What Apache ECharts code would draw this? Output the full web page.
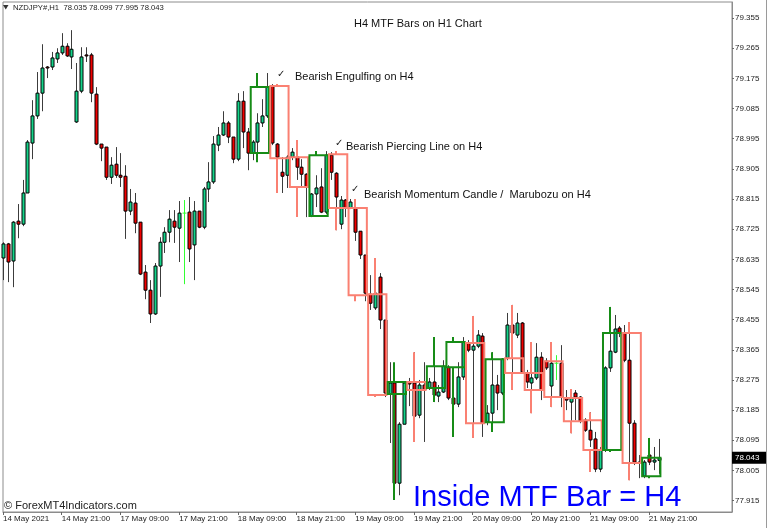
<!DOCTYPE html>
<html><head><meta charset="utf-8">
<script src="https://cdn.jsdelivr.net/npm/echarts@6/dist/echarts.min.js"></script>
<style>html,body{margin:0;padding:0;background:#fff}#c{width:768px;height:528px}</style>
</head><body><div id="c"></div>
<script>
// ---- data ----
const headerText = 'NZDJPY#,H1  78.035 78.099 77.995 78.043';
const titleText = 'H4 MTF Bars on H1 Chart';
const notes = ['Bearish Engulfing on H4', 'Bearish Piercing Line on H4', 'Bearish Momentum Candle /  Marubozu on H4'];
const bigNote = 'Inside MTF Bar = H4';
const copyright = '\u00A9 ForexMT4Indicators.com';

// H1 candles, bar index 0 = 14 May 2021 09:00
const h1Open = [78.639,78.681,78.630,78.749,78.740,78.833,78.982,79.063,79.131,79.209,79.209,79.233,79.251,79.271,79.239,
79.045,79.137,79.245,79.245,79.128,78.979,78.970,78.880,78.919,78.886,78.883,78.779,78.803,78.746,78.597,78.543,78.472,78.615,78.686,78.716,78.749,78.728,78.773,78.776,
78.678,78.779,78.731,78.845,78.866,78.976,79.006,79.042,79.000,78.934,79.107,79.015,78.952,78.985,79.042,79.063,79.152,78.979,78.895,78.886,78.940,78.940,78.910,78.889,
78.764,78.830,78.851,78.776,78.946,78.892,78.740,78.812,78.788,78.788,78.719,78.648,78.531,78.490,78.582,78.454,78.233,78.266,77.967,78.143,78.269,78.266,78.170,78.260,
78.251,78.269,78.227,78.239,78.313,78.221,78.203,78.284,78.385,78.364,78.376,78.406,78.149,78.176,78.260,78.236,78.340,78.439,78.409,78.445,78.296,78.266,78.281,78.343,
78.331,78.257,78.325,78.325,78.221,78.209,78.236,78.224,78.155,78.125,78.099,78.009,78.066,78.311,78.358,78.430,78.415,78.334,78.146,78.030,77.988,78.051,78.030,78.035];
const h1High = [78.686,78.684,78.749,78.800,78.872,78.991,79.110,79.194,79.277,79.212,79.254,79.265,79.310,79.280,79.319,
79.221,79.268,79.268,79.251,79.149,78.979,78.970,78.940,78.970,78.952,78.916,78.845,78.833,78.746,78.618,78.573,78.624,78.701,78.731,78.782,78.782,78.809,78.812,78.821,
78.809,78.779,78.851,78.925,79.003,79.030,79.077,79.048,79.000,79.131,79.137,79.027,78.991,79.071,79.113,79.191,79.158,78.982,78.940,78.946,78.967,78.991,78.934,78.892,
78.833,78.886,78.907,78.958,78.955,78.895,78.824,78.815,78.815,78.815,78.719,78.648,78.588,78.639,78.594,78.454,78.328,78.269,78.149,78.269,78.281,78.358,78.275,78.328,
78.281,78.403,78.260,78.334,78.319,78.245,78.328,78.403,78.394,78.466,78.424,78.415,78.200,78.358,78.290,78.340,78.475,78.499,78.475,78.448,78.305,78.388,78.385,78.358,
78.340,78.388,78.349,78.379,78.245,78.248,78.245,78.227,78.161,78.179,78.120,78.075,78.316,78.493,78.469,78.436,78.439,78.448,78.155,78.051,78.036,78.102,78.075,78.099];
const h1Low = [78.573,78.567,78.552,78.698,78.734,78.833,78.934,79.054,79.077,79.176,79.200,79.221,79.245,79.239,79.203,
79.042,79.131,79.224,79.104,78.976,78.928,78.872,78.860,78.878,78.851,78.696,78.767,78.713,78.588,78.516,78.445,78.469,78.523,78.654,78.686,78.684,78.627,78.561,78.627,
78.573,78.728,78.725,78.806,78.860,78.958,79.003,78.982,78.922,78.928,78.967,78.901,78.931,78.940,79.030,79.057,78.976,78.901,78.833,78.848,78.931,78.872,78.848,78.761,
78.761,78.791,78.773,78.770,78.872,78.722,78.725,78.761,78.785,78.690,78.636,78.510,78.484,78.484,78.427,78.224,78.087,77.917,77.931,78.143,78.197,78.090,78.161,78.090,
78.245,78.209,78.209,78.236,78.215,78.105,78.194,78.275,78.358,78.105,78.370,78.105,78.140,78.120,78.185,78.230,78.334,78.245,78.400,78.293,78.251,78.176,78.275,78.215,
78.305,78.194,78.275,78.194,78.185,78.116,78.155,78.146,78.120,78.075,78.000,78.000,78.060,78.299,78.355,78.403,78.328,77.976,78.021,77.982,77.982,78.021,78.006,77.995];
const h1Close = [78.681,78.627,78.746,78.740,78.833,78.985,79.063,79.131,79.206,79.206,79.236,79.251,79.271,79.242,79.262,
79.137,79.239,79.242,79.131,78.979,78.967,78.880,78.916,78.886,78.880,78.779,78.806,78.743,78.591,78.543,78.472,78.615,78.686,78.716,78.755,78.731,78.773,78.773,78.666,
78.779,78.731,78.845,78.866,78.979,79.006,79.042,79.000,78.934,79.107,79.015,78.952,78.985,79.042,79.063,79.149,78.982,78.940,78.883,78.940,78.955,78.910,78.889,78.851,
78.830,78.848,78.776,78.946,78.895,78.821,78.812,78.788,78.806,78.716,78.648,78.534,78.504,78.534,78.454,78.236,78.266,77.967,78.143,78.266,78.263,78.167,78.260,78.245,
78.269,78.230,78.239,78.316,78.221,78.203,78.284,78.388,78.364,78.376,78.409,78.146,78.176,78.260,78.236,78.337,78.439,78.415,78.445,78.299,78.269,78.281,78.343,78.245,
78.311,78.325,78.325,78.224,78.215,78.221,78.224,78.152,78.125,78.096,78.009,78.066,78.311,78.361,78.427,78.415,78.334,78.146,78.030,78.027,78.030,78.030,78.036,78.043];

// H4 bars (first H1 bar index of each H4 bar)
const h4Start = [51,55,59,63,67,71,75,79,83,87,91,95,99,103,107,111,115,119,123,127,131];
const h4Open  = [78.952,79.152,78.940,78.764,78.949,78.788,78.531,78.233,78.269,78.251,78.313,78.385,78.149,78.340,78.296,78.331,78.221,78.155,78.066,78.415,77.988];
const h4High  = [79.191,79.158,78.991,78.958,78.958,78.815,78.639,78.328,78.358,78.403,78.403,78.466,78.358,78.499,78.388,78.388,78.248,78.179,78.493,78.448,78.102];
const h4Low   = [78.925,78.833,78.761,78.761,78.722,78.510,78.224,77.917,78.090,78.209,78.105,78.102,78.120,78.245,78.176,78.194,78.116,78.000,78.060,77.976,77.982];
const h4Close = [79.149,78.937,78.851,78.946,78.788,78.528,78.230,78.269,78.245,78.316,78.388,78.146,78.337,78.296,78.245,78.224,78.152,78.066,78.415,78.027,78.043];

const priceTicks = [79.355,79.265,79.175,79.085,78.995,78.905,78.815,78.725,78.635,78.545,78.455,78.365,78.275,78.185,78.095,78.005,77.915];
const timeTickIdx = [0,12,24,36,48,60,72,84,96,108,120,132];
const timeTickLabels = ['14 May 2021','14 May 21:00','17 May 09:00','17 May 21:00','18 May 09:00','18 May 21:00','19 May 09:00','19 May 21:00','20 May 09:00','20 May 21:00','21 May 09:00','21 May 21:00'];

// ---- chart ----
const BULL = '#14d48a', BEAR = '#f00000', DOJI = '#33ff33';
const H4UP = '#168c16', H4DN = '#fa8072';
const h1Data = h1Open.map((o, i) => [i, o, h1High[i], h1Low[i], h1Close[i]]);
const h4Data = h4Start.map((s, k) => [s, h4Open[k], h4High[k], h4Low[k], h4Close[k]]);

function renderH1(params, api) {
  const i = api.value(0), o = api.value(1), h = api.value(2), l = api.value(3), c = api.value(4);
  const pO = api.coord([i, o]), pH = api.coord([i, h]), pL = api.coord([i, l]), pC = api.coord([i, c]);
  const x = Math.round(pO[0]) + 0.5;
  if (o === c) {
    return {type: 'group', children: [
      {type: 'line', shape: {x1: x, y1: pH[1], x2: x, y2: pL[1]}, style: {stroke: DOJI, lineWidth: 1}},
      {type: 'line', shape: {x1: x - 2, y1: pO[1], x2: x + 2, y2: pO[1]}, style: {stroke: DOJI, lineWidth: 1}}
    ]};
  }
  const top = Math.min(pO[1], pC[1]), bot = Math.max(pO[1], pC[1]);
  return {type: 'group', children: [
    {type: 'line', shape: {x1: x, y1: pH[1], x2: x, y2: pL[1]}, style: {stroke: '#3c3c3c', lineWidth: 1}},
    {type: 'rect', shape: {x: x - 1.5, y: top, width: 3, height: Math.max(bot - top, 1)},
     style: {fill: c > o ? BULL : BEAR, stroke: '#000', lineWidth: 1}}
  ]};
}
function renderH4(params, api) {
  const s = api.value(0), o = api.value(1), h = api.value(2), l = api.value(3), c = api.value(4);
  const pA = api.coord([s, o]), pB = api.coord([s + 3, c]);
  const pH = api.coord([s + 1, h]), pL = api.coord([s + 1, l]);
  const col = c > o ? H4UP : H4DN;
  const top = Math.min(pA[1], pB[1]), bot = Math.max(pA[1], pB[1]);
  const x1 = pA[0] - 1.8, x2 = pB[0] + 1.8;
  const wx = Math.round(pH[0]);
  return {type: 'group', children: [
    {type: 'line', shape: {x1: wx, y1: pH[1], x2: wx, y2: top}, style: {stroke: col, lineWidth: 2}},
    {type: 'line', shape: {x1: wx, y1: bot, x2: wx, y2: pL[1]}, style: {stroke: col, lineWidth: 2}},
    {type: 'rect', shape: {x: x1, y: top, width: x2 - x1, height: Math.max(bot - top, 1)},
     style: {fill: 'none', stroke: col, lineWidth: 2}}
  ]};
}

const chart = echarts.init(document.getElementById('c'), null, {renderer: 'canvas'});
const FONT = 'Liberation Sans, Arial, sans-serif';
chart.setOption({
  animation: false,
  backgroundColor: '#ffffff',
  grid: {left: 1.2, right: 36, top: 2, bottom: 16, show: true, borderColor: '#8c8c8c', borderWidth: 1, backgroundColor: '#fff'},
  xAxis: {
    type: 'value', min: 0, max: 149, position: 'bottom',
    axisLine: {show: true, onZero: false, lineStyle: {color: '#8c8c8c'}},
    axisTick: {show: true, customValues: timeTickIdx, length: 3, lineStyle: {color: '#666'}},
    axisLabel: {customValues: timeTickIdx, formatter: v => timeTickLabels[timeTickIdx.indexOf(Math.round(v))] || '',
      align: 'left', fontSize: 8, color: '#222', margin: 3, fontFamily: FONT, hideOverlap: false,
      showMinLabel: true},
    splitLine: {show: false}
  },
  yAxis: {
    type: 'value', position: 'right', min: 77.881, max: 79.403, scale: true,
    axisLine: {show: true, onZero: false, lineStyle: {color: '#8c8c8c'}},
    axisTick: {show: true, customValues: priceTicks, length: 2, lineStyle: {color: '#666'}},
    axisLabel: {customValues: priceTicks, formatter: v => v.toFixed(3), fontSize: 8, color: '#222', margin: 3, fontFamily: FONT, align: 'left'},
    splitLine: {show: false}
  },
  series: [
    {type: 'custom', name: 'H1', renderItem: renderH1, data: h1Data, encode: {x: 0, y: [1, 2, 3, 4]}, z: 2, clip: false},
    {type: 'custom', name: 'H4', renderItem: renderH4, data: h4Data, encode: {x: 0, y: [1, 2, 3, 4]}, z: 3, clip: false}
  ]
});

const lastClose = h1Close[h1Close.length - 1];
const yLast = chart.convertToPixel({yAxisIndex: 0}, lastClose);
const txt = (text, x, y, size, fill, extra) => Object.assign({type: 'text', silent: true, z: 100,
  style: Object.assign({text: text, x: x, y: y, font: size + 'px ' + FONT, fill: fill, verticalAlign: 'middle'}, extra || {})});
chart.setOption({graphic: [
  {type: 'polygon', shape: {points: [[3, 5], [8.5, 5], [5.75, 9.5]]}, style: {fill: '#333'}},
  txt(headerText, 13, 7.5, 7.7, '#222'),
  txt(titleText, 354, 24, 11, '#111'),
  txt('\u2713', 277, 74, 10, '#222', {font: '10px DejaVu Sans'}),
  txt(notes[0], 295, 76.5, 11, '#111'),
  txt('\u2713', 335, 143, 10, '#222', {font: '10px DejaVu Sans'}),
  txt(notes[1], 346, 146.5, 11, '#111'),
  txt('\u2713', 351, 189, 10, '#222', {font: '10px DejaVu Sans'}),
  txt(notes[2], 364, 194.5, 11, '#111'),
  txt(bigNote, 413, 483, 29, '#0000ff', {verticalAlign: 'alphabetic'}),
  txt(copyright, 4, 506, 11, '#222'),
  {type: 'rect', shape: {x: 732, y: yLast - 6, width: 34, height: 12}, style: {fill: '#000'}, z: 100},
  txt(lastClose.toFixed(3), 735, yLast, 8, '#fff'),
  {type: 'line', shape: {x1: 766.5, y1: 0, x2: 766.5, y2: 528}, style: {stroke: '#9a9a9a', lineWidth: 1}}
]});
</script></body></html>
